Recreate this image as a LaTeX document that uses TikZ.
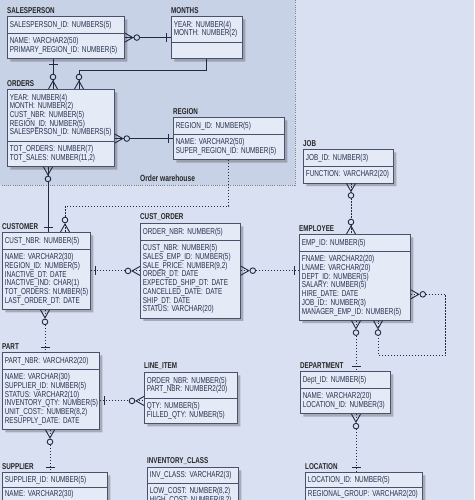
\documentclass[tikz,border=0pt]{standalone}
\usepackage{fontspec}
\usetikzlibrary{shapes.multipart,shadows,decorations.markings}
\newfontfamily\condsans[FakeStretch=0.74]{Liberation Sans}
\hyphenpenalty=10000

\definecolor{bgout}{RGB}{216,224,241}
\definecolor{bgware}{RGB}{200,210,230}
\definecolor{boxfill}{RGB}{228,234,246}
\definecolor{boxline}{RGB}{72,82,108}
\definecolor{ink}{RGB}{38,48,78}
\definecolor{wirec}{RGB}{34,42,66}

\tikzset{
  entity/.style={rectangle split, rectangle split parts=2, anchor=north west,
    draw=boxline, line width=0.8pt, fill=boxfill, align=left, text=ink,
    font=\condsans\fontsize{8.6}{8.7}\selectfont,
    inner xsep=2.5pt, inner ysep=4pt,
    drop shadow={shadow xshift=3pt, shadow yshift=-3pt, fill=black!80, opacity=0.3}},
  etitle/.style={anchor=south west, inner sep=0pt, text=black!85,
    font=\condsans\bfseries\fontsize{8.5}{9}\selectfont},
  wire/.style={draw=wirec, line width=0.9pt},
  dots/.style={wire, dash pattern=on 1.3pt off 1.7pt},
  many start/.style={postaction={decorate, decoration={markings, mark=at position 0 with
    {\draw[wire, solid] (0,-4.5) -- (8,0) -- (0,4.5); \draw[wire, solid, fill=#1] (12,0) circle (2.8);}}}},
  many start/.default=bgout,
  many end/.style={postaction={decorate, decoration={markings, mark=at position 1 with
    {\draw[wire, solid] (0,-4.5) -- (-8,0) -- (0,4.5); \draw[wire, solid, fill=#1] (-12,0) circle (2.8);}}}},
  many end/.default=bgout,
  one start/.style={postaction={decorate, decoration={markings, mark=at position 0 with
    {\draw[wire, solid] (5,-4.5) -- (5,4.5);}}}},
  one end/.style={postaction={decorate, decoration={markings, mark=at position 1 with
    {\draw[wire, solid] (-5,-4.5) -- (-5,4.5);}}}},
}

\begin{document}
\begin{tikzpicture}[x=1pt, y=-1pt]
    \useasboundingbox (0,0) rectangle (474,500);
    \clip (0,0) rectangle (474,500);
    \fill[bgout] (0,0) rectangle (474,500);

    % Order warehouse
    \fill[bgware] (-2,-2) rectangle (295,185);
    \draw[gray, line width=0.6pt, dash pattern=on 0.8pt off 1.4pt] (295,-2) -- (295,185) -- (-2,185);
    \node[anchor=west, inner sep=0pt, text=black!85, font=\condsans\bfseries\fontsize{9}{10}\selectfont] (warehouse) at (140,178) {Order warehouse};

    % Tables
    \node[entity, text width=112pt] (salesperson) at (7,16) {SALESPERSON\_ID:~NUMBERS(5)
        \nodepart{two} NAME:~VARCHAR2(50)\\ PRIMARY\_REGION\_ID:~NUMBER(5)};
    \node[entity, text width=66pt] (months) at (171,16) {YEAR:~NUMBER(4)\\ MONTH:~NUMBER(2)
        \nodepart{two} \vphantom{X(}};
    \node[entity, text width=102pt] (orders) at (7,89) {YEAR:~NUMBER(4)\\ MONTH:~NUMBER(2)\\ CUST\_NBR:~NUMBER(5)\\ REGION\_ID:~NUMBER(5)\\ SALESPERSON\_ID:~NUMBERS(5)
        \nodepart{two} TOT\_ORDERS:~NUMBER(7)\\ TOT\_SALES:~NUMBER(11,2)};
    \node[entity, text width=106pt] (region) at (173,117) {REGION\_ID:~NUMBER(5)
        \nodepart{two} NAME:~VARCHAR2(50)\\ SUPER\_REGION\_ID:~NUMBER(5)};
    \node[entity, text width=83pt] (customer) at (2,232) {CUST\_NBR:~NUMBER(5)
        \nodepart{two} NAME:~VARCHAR2(30)\\ REGION\_ID:~NUMBER(5)\\ INACTIVE\_DT:~DATE\\ INACTIVE\_IND:~CHAR(1)\\ TOT\_ORDERS:~NUMBER(5)\\ LAST\_ORDER\_DT:~DATE};
    \node[entity, text width=95pt] (custorder) at (140,223) {ORDER\_NBR:~NUMBER(5)
        \nodepart{two} CUST\_NBR:~NUMBER(5)\\ SALES\_EMP\_ID:~NUMBER(5)\\ SALE\_PRICE:~NUMBER(9,2)\\ ORDER\_DT:~DATE\\ EXPECTED\_SHIP\_DT:~DATE\\ CANCELLED\_DATE:~DATE\\ SHIP\_DT:~DATE\\ STATUS:~VARCHAR(20)};
    \node[entity, text width=85pt] (job) at (303,149) {JOB\_ID:~NUMBER(3)
        \nodepart{two} FUNCTION:~VARCHAR2(20)};
    \node[entity, text width=106pt] (employee) at (299,234) {EMP\_ID:~NUMBER(5)
        \nodepart{two} FNAME:~VARCHAR2(20)\\ LNAME:~VARCHAR(20)\\ DEPT\_ID:~NUMBER(5)\\ SALARY:~NUMBER(5)\\ HIRE\_DATE:~DATE\\ JOB\_ID::~NUMBER(3)\\ MANAGER\_EMP\_ID:~NUMBER(5)};
    \node[entity, text width=85pt] (department) at (300,371) {Dept\_ID:~NUMBER(5)
        \nodepart{two} NAME:~VARCHAR2(20)\\ LOCATION\_ID:~NUMBER(3)};
    \node[entity, text width=112pt, inner ysep=3pt] (location) at (305,472) {LOCATION\_ID:~NUMBER(5)
        \nodepart{two} REGIONAL\_GROUP:~VARCHAR2(20)\\ \strut};
    \node[entity, text width=92pt] (part) at (2,352) {PART\_NBR:~VARCHAR2(20)
        \nodepart{two} NAME:~VARCHAR(30)\\ SUPPLIER\_ID:~NUMBER(5)\\ STATUS:~VARCHAR2(10)\\ INVENTORY\_QTY:~NUMBER(5)\\ UNIT\_COST::~NUMBER(8,2)\\ RESUPPLY\_DATE:~DATE};
    \node[entity, text width=88pt] (lineitem) at (144,372) {ORDER\_NBR:~NUMBER(5)\\ PART\_NBR:~NUMBER2(20)
        \nodepart{two} QTY:~NUMBER(5)\\ FILLED\_QTY:~NUMBER(5)};
    \node[entity, text width=100pt, inner ysep=3pt] (supplier) at (2,472) {SUPPLIER\_ID:~NUMBER(5)
        \nodepart{two} NAME:~VARCHAR2(30)\\ \strut};
    \node[entity, text width=86pt, inner ysep=3.5pt] (invclass) at (147,467) {INV\_CLASS:~VARCHAR2(3)
        \nodepart{two} LOW\_COST:~NUMBER(8,2)\\ HIGH\_COST:~NUMBER(8,2)};

    % Titles
    \node[etitle] (salesperson-t) at ([yshift=2]salesperson.north west) {SALESPERSON};
    \node[etitle] (months-t) at ([yshift=2]months.north west) {MONTHS};
    \node[etitle] (orders-t) at ([yshift=2]orders.north west) {ORDERS};
    \node[etitle] (region-t) at ([yshift=2]region.north west) {REGION};
    \node[etitle] (customer-t) at ([yshift=2]customer.north west) {CUSTOMER};
    \node[etitle] (custorder-t) at ([yshift=2]custorder.north west) {CUST\_ORDER};
    \node[etitle] (job-t) at ([yshift=2]job.north west) {JOB};
    \node[etitle] (employee-t) at ([yshift=2]employee.north west) {EMPLOYEE};
    \node[etitle] (department-t) at ([yshift=2]department.north west) {DEPARTMENT};
    \node[etitle] (location-t) at ([yshift=2]location.north west) {LOCATION};
    \node[etitle] (part-t) at ([yshift=2]part.north west) {PART};
    \node[etitle] (lineitem-t) at ([yshift=2]lineitem.north west) {LINE\_ITEM};
    \node[etitle] (supplier-t) at ([yshift=2]supplier.north west) {SUPPLIER};
    \node[etitle] (invclass-t) at ([yshift=2]invclass.north west) {INVENTORY\_CLASS};

    % Relationships
    \coordinate (o-m) at ([xshift=72]orders.north west);
    \coordinate (c-r) at ([xshift=63]customer.north west);
    \coordinate (j-e) at ([xshift=48]job.south west);
    \coordinate (e-r) at ([yshift=-17]employee.east);
    \coordinate (e-b) at ([xshift=79]employee.south west);

    \draw[wire, many start=bgware, one end] (salesperson.east) -- (salesperson.east -| months.west);
    \draw[wire, many end=bgware] (months.south) -- ++(0,11) -| (o-m);
    \draw[wire, one start, many end=bgware] ([xshift=46]salesperson.south west) -- ([xshift=46]orders.north west);
    \draw[wire, many start=bgware, one end] (orders.east |- region.west) -- (region.west);
    \draw[wire, many start=bgware, one end] ([xshift=41]orders.south west) -- ([xshift=46]customer.north west);
    \draw[dots, many end] (region.south) -- ++(0,46) -| (c-r);
    \draw[dots, one start, many end] (customer.east) -- (customer.east -| custorder.west);
    \draw[dots, many start, one end] ([xshift=43]customer.south west) -- ([xshift=43]part.north west);
    \draw[dots, many start, one end] (custorder.east) -- (custorder.east -| employee.west);
    \draw[dots, many start, many end] (j-e) -- (j-e |- employee.north);
    \draw[dots, many start, many end] (e-r) -| ++(35,61) -| (e-b); %manager
    \draw[dots, many start, one end] ([xshift=57]employee.south west) -- ([xshift=56]department.north west);
    \draw[dots, many start, one end] ([xshift=56]department.south west) -- ([xshift=51]location.north west);
    \draw[dots, one start, many end] ([yshift=-10]part.east) -- ([yshift=-10]part.east -| lineitem.west);
    \draw[dots, many start, one end] ([xshift=48]part.south west) -- ([xshift=48]supplier.north west);
\end{tikzpicture}
\end{document}
